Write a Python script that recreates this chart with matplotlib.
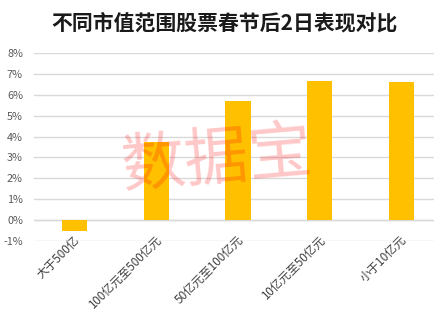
import matplotlib
matplotlib.use('Agg')
import matplotlib.pyplot as plt
from matplotlib.transforms import ScaledTranslation

plt.rcParams['font.family'] = ['Noto Sans CJK SC', 'DejaVu Sans']

categories = ['大于500亿', '100亿元至500亿元', '50亿元至100亿元', '10亿元至50亿元', '小于10亿元']
values = [-0.51, 3.72, 5.70, 6.65, 6.62]
yticks = [-1, 0, 1, 2, 3, 4, 5, 6, 7, 8]
title = '不同市值范围股票春节后2日表现对比'


def main():
    fig = plt.figure(figsize=(4.34, 3.15), dpi=100)
    ax = fig.add_axes([34 / 434, 1 - 241 / 315, 400 / 434, 188 / 315])

    x = list(range(len(categories)))
    ax.bar(x, values, width=0.31, color='#FFC000', zorder=3)

    ax.set_xlim(-0.5, 4.4)
    ax.set_ylim(-1, 8)
    ax.set_yticks(yticks)
    ax.set_yticklabels(['%d%%' % t for t in yticks], color='#595959', fontsize=7.8)
    ax.grid(axis='y', color='#D9D9D9', linewidth=1, zorder=0)
    ax.axhline(0, color='#D9D9D9', linewidth=1, zorder=1)
    for s in ax.spines.values():
        s.set_visible(False)
    ax.tick_params(axis='both', length=0)
    ax.tick_params(axis='y', pad=8)
    ax.set_xticks(x)
    ax.set_xticklabels(categories, rotation=45, ha='right', va='center',
                       rotation_mode='anchor', fontsize=8.4, color='#404040')
    ax.tick_params(axis='x', pad=0)
    shift = ScaledTranslation(3 / 100, 3 / 100, fig.dpi_scale_trans)
    for lab in ax.get_xticklabels():
        lab.set_transform(lab.get_transform() + shift)

    fig.text(224 / 434, 1 - 23 / 315, title, ha='center', va='center',
             fontsize=15, fontweight='bold', color='#1a1a1a')

    # watermark
    fig.text(217 / 434, 1 - 160 / 315, '数据宝', ha='center', va='center',
             fontsize=46, color='red', alpha=0.22, rotation=5, zorder=10)

    fig.savefig('out.png', dpi=100)


if __name__ == '__main__':
    main()
